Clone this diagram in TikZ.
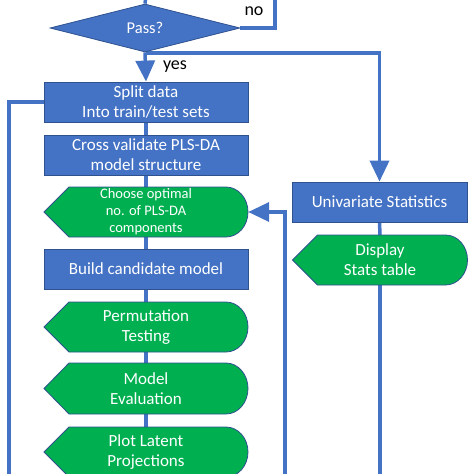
\documentclass[tikz,border=0pt]{standalone}
\usepackage{fontspec}
\setmainfont{Carlito}
\usetikzlibrary{arrows.meta,calc,shapes.geometric}
\definecolor{oblue}{HTML}{4472C4}
\definecolor{odark}{HTML}{2F528F}
\definecolor{ogreen}{HTML}{00B050}
\pgfdeclarelayer{bg}
\pgfsetlayers{bg,main}
\tikzset{
  bluebox/.style={rectangle,draw=odark,line width=0.8pt,fill=oblue,text=white,
    minimum width=204pt,minimum height=40pt,align=center,inner sep=0pt,
    font=\fontsize{17}{20}\selectfont},
  gtext/.style={rectangle,text=white,align=center,inner sep=0pt,
    minimum height=50pt,font=\fontsize{17}{20}\selectfont},
  greenshape/.style={draw=odark,line width=0.8pt,fill=ogreen},
  link/.style={draw=oblue,line width=3.5pt},
  arr/.style={link,-{Triangle[length=21pt,width=19pt]}},
  lbl/.style={text=black,inner sep=0pt,font=\fontsize{18}{20}\selectfont},
}
\newcommand\dispshape[3]{%
  \path[greenshape] ($(#1)+(-#2,0)$) -- ($(#1)+(-#2+25,-#3)$)
    -- ($(#1)+(#2-22,-#3)$) arc[start angle=-90,end angle=90,x radius=22,y radius=#3]
    -- ($(#1)+(-#2+25,#3)$) -- cycle;}
\begin{document}
\begin{tikzpicture}[x=1pt,y=-1pt]
\useasboundingbox (0,0) rectangle (474,474);
\clip (0,0) rectangle (474,474);
% decision
\node[diamond,draw=odark,line width=0.8pt,fill=oblue,text=white,inner sep=0pt,
  minimum width=190pt,minimum height=44pt,font=\fontsize{16.5}{19}\selectfont]
  (pass) at (145,28) {Pass?};
\node[lbl] (no) at (254,11) {no};
\node[lbl] (yes) at (175,67) {yes};
% left column
\node[bluebox] (split) at (146,102) {Split data\\Into train/test sets};
\node[bluebox] (cross) at (146,155) {Cross validate PLS-DA\\model structure};
\coordinate (cchoose) at (146,212);
\dispshape{cchoose}{102}{25}
\node[gtext,minimum width=204pt,font=\fontsize{14.5}{17}\selectfont] (choose) at (cchoose) {Choose optimal\\no. of PLS-DA\\components};
\node[bluebox] (build) at (146,269) {Build candidate model};
\coordinate (cperm) at (146,327);
\dispshape{cperm}{102}{25}
\node[gtext,minimum width=204pt] (perm) at (cperm) {Permutation\\Testing};
\coordinate (ceval) at (146,388.5);
\dispshape{ceval}{102}{25.5}
\node[gtext,minimum width=204pt] (eval) at (ceval) {Model\\Evaluation};
\coordinate (cplot) at (146,452);
\dispshape{cplot}{102}{25}
\node[gtext,minimum width=204pt] (plot) at (cplot) {Plot Latent\\Projections};
% right column
\node[bluebox,minimum width=175pt] (uni) at (379.5,202) {Univariate Statistics};
\coordinate (cdisp) at (380,260);
\dispshape{cdisp}{87.5}{25}
\node[gtext,minimum width=175pt] (disp) at (cdisp) {Display\\Stats table};
% free ends
\coordinate (topin) at (146,-5);
\coordinate (noend) at (275,-5);
\coordinate (branch) at (146,53);
\coordinate (leftend) at (9,480);
\coordinate (midend) at (285,480);
\coordinate (rightend) at (380,480);
\begin{pgfonlayer}{bg}
  \draw[link] (topin) -- (pass.north);
  \draw[link] (pass.east) -| (noend);
  \draw[arr] (pass.south) -- (split.north);
  \draw[arr] (branch) -| (uni.north);
  \draw[link] (split.west) -| (leftend);
  \draw[link] (split.south) -- (cross.north);
  \draw[link] (cross.south) -- (choose.north);
  \draw[link] (choose.south) -- (build.north);
  \draw[link] (build.south) -- (perm.north);
  \draw[link] (perm.south) -- (eval.north);
  \draw[link] (eval.south) -- (plot.north);
  \draw[link] (uni.south) -- (disp.north);
  \draw[link] (disp.south) -- (rightend);
  \draw[arr] (midend) |- (choose.east);
\end{pgfonlayer}
\end{tikzpicture}
\end{document}
